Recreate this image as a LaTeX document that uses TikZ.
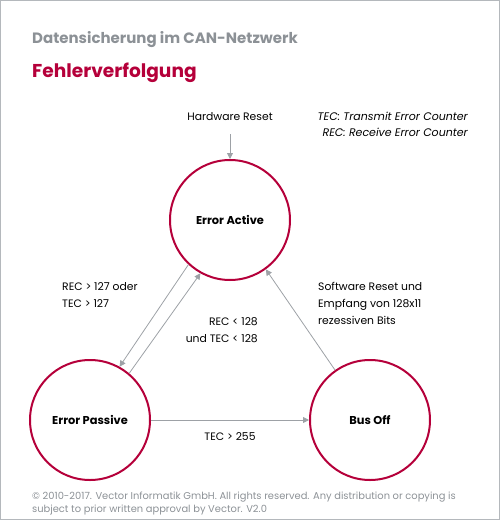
\documentclass[tikz,border=0pt]{standalone}
\usepackage{fontspec}
\setmainfont{Poppins}
\usetikzlibrary{arrows.meta}
\definecolor{vred}{HTML}{B5003A}
\definecolor{vgray}{HTML}{8C9196}
\definecolor{agray}{HTML}{9DA1A6}
\definecolor{fgray}{HTML}{B4B8BC}
\tikzset{
  state/.style={circle, draw=vred, line width=2pt, minimum size=120pt, inner sep=0pt, font=\fontsize{11.4}{13}\selectfont\bfseries},
  conn/.style={draw=agray, line width=0.8pt, -{Triangle[width=6pt,length=6pt]}},
  lbl/.style={inner sep=0pt, font=\fontsize{10.8}{17}\selectfont, align=left},
}
\begin{document}
\begin{tikzpicture}[x=1pt,y=-1pt]
\useasboundingbox (0,0) rectangle (500,520);
\draw[fgray, line width=1pt] (0.5,0.5) rectangle (499.5,519.5);
\node[anchor=base west, inner sep=0pt, text=vgray, font=\fontsize{15}{18}\selectfont\bfseries] (t1) at (32,43) {Datensicherung im CAN-Netzwerk};
\node[anchor=base west, inner sep=0pt, text=vred, font=\fontsize{18.6}{20}\selectfont\bfseries] (t2) at (32,77) {Fehlerverfolgung};
\node[state] (ea) at (230,220) {Error Active};
\node[state] (ep) at (90,420) {Error Passive};
\node[state] (bo) at (370,420) {Bus Off};
\node[lbl, anchor=base] (hw) at (230,120) {Hardware Reset};
\coordinate (hwe) at (230,134);
\draw[conn] (hwe) -- (ea.north);
\node[lbl, anchor=base east, align=right, font=\fontsize{11}{16}\selectfont\itshape] (leg) at (468,136) {TEC: Transmit Error Counter\\REC: Receive Error Counter};
\draw[conn] (ea.227) -- (ep.61);
\draw[conn] (ep.50) -- (ea.241);
\draw[conn] (bo.125) -- (ea.306);
\draw[conn] (ep.east) -- (bo.west);
\node[lbl, anchor=base west] (l1) at (62,307) {REC > 127 oder\\TEC > 127};
\node[lbl, anchor=base east, align=right] (l2) at (258,342) {REC < 128\\und TEC < 128};
\node[lbl, anchor=base west] (l3) at (318,324) {Software Reset und\\Empfang von 128x11\\rezessiven Bits};
\node[lbl, anchor=base] (l4) at (230,440) {TEC > 255};
\node[anchor=base west, inner sep=0pt, text=vgray, align=left, font=\fontsize{9.9}{12.5}\selectfont] (ft) at (32,512) {© 2010-2017. Vector Informatik GmbH. All rights reserved. Any distribution or copying is\\subject to prior written approval by Vector. V2.0};
\end{tikzpicture}
\end{document}
